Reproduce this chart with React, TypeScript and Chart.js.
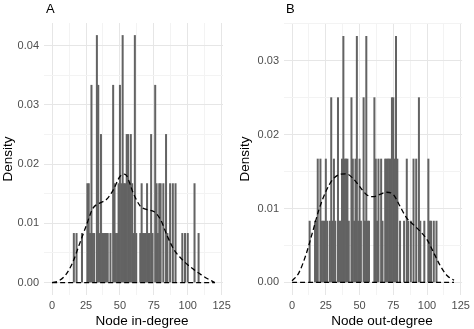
import React, { useEffect, useRef } from "react";
import { Chart, registerables } from "chart.js";
Chart.register(...registerables);

// Panel A: node in-degree histogram (bin width 1), density per bin
const inDegrees = [16, 18, 22, 26, 27, 28, 29, 30, 31, 33, 34, 35, 36, 37, 38, 39, 40, 41, 43, 45, 46, 47, 48, 49, 50, 51, 52, 53, 54, 55, 56, 57, 58, 59, 60, 61, 62, 65, 66, 67, 68, 69, 70, 71, 72, 73, 74, 76, 77, 78, 79, 80, 82, 84, 85, 87, 89, 91, 96, 98, 100, 105, 108];
const inDensity = [0.0083, 0.0083, 0.0083, 0.0167, 0.0167, 0.0083, 0.0333, 0.0083, 0.0083, 0.0417, 0.0333, 0.0083, 0.025, 0.0083, 0.0083, 0.0083, 0.0083, 0.0083, 0.0083, 0.0333, 0.0167, 0.0083, 0.0083, 0.0167, 0.0333, 0.0167, 0.0417, 0.0167, 0.0167, 0.025, 0.025, 0.0167, 0.025, 0.0167, 0.0083, 0.0417, 0.0083, 0.0083, 0.0167, 0.0083, 0.0083, 0.0083, 0.0167, 0.0083, 0.0083, 0.025, 0.0083, 0.0333, 0.0167, 0.0083, 0.0167, 0.0167, 0.0167, 0.025, 0.0083, 0.0167, 0.0167, 0.0167, 0.0083, 0.0083, 0.0083, 0.0167, 0.0083];
const inCurveX = [0, 5, 10, 15, 20, 25, 30, 35, 40, 45, 50, 53, 55, 60, 65, 70, 75, 80, 85, 90, 95, 100, 105, 110, 115, 120];
const inCurveY = [0.0, 0.0003, 0.0013, 0.0033, 0.0064, 0.0095, 0.0125, 0.0134, 0.014, 0.0156, 0.0179, 0.0183, 0.018, 0.015, 0.0129, 0.0123, 0.012, 0.0106, 0.0078, 0.0055, 0.0041, 0.003, 0.0021, 0.0013, 0.0006, 0.0];

// Panel B: node out-degree histogram
const outDegrees = [13, 17, 18, 19, 21, 22, 23, 24, 25, 26, 28, 29, 30, 31, 32, 34, 35, 36, 37, 38, 39, 40, 41, 42, 44, 45, 46, 47, 48, 49, 50, 51, 53, 54, 55, 56, 57, 61, 62, 63, 64, 66, 67, 69, 70, 71, 72, 73, 74, 75, 76, 77, 78, 80, 83, 85, 86, 88, 90, 92, 94, 95, 98, 101, 102, 103, 105, 107];
const outDensity = [0.0083, 0.0083, 0.0083, 0.0167, 0.0167, 0.0083, 0.0083, 0.0083, 0.0167, 0.0083, 0.0083, 0.025, 0.0083, 0.0167, 0.0083, 0.025, 0.0083, 0.0083, 0.0167, 0.0333, 0.0167, 0.0167, 0.0167, 0.0083, 0.025, 0.0167, 0.0083, 0.0167, 0.0333, 0.0083, 0.0167, 0.0083, 0.025, 0.0083, 0.0333, 0.0083, 0.0083, 0.025, 0.0167, 0.0083, 0.0167, 0.0167, 0.0083, 0.0167, 0.0167, 0.0167, 0.0167, 0.0167, 0.025, 0.025, 0.0167, 0.0333, 0.0167, 0.0083, 0.0083, 0.0167, 0.0083, 0.0083, 0.0167, 0.0167, 0.025, 0.0083, 0.0083, 0.0167, 0.0083, 0.0083, 0.0083, 0.0083];
const outCurveX = [0, 5, 10, 15, 20, 25, 30, 35, 40, 45, 50, 55, 60, 65, 70, 75, 80, 85, 90, 95, 100, 105, 110, 115, 120];
const outCurveY = [0.0002, 0.0013, 0.0036, 0.0067, 0.0099, 0.0123, 0.0139, 0.0146, 0.0147, 0.0141, 0.013, 0.0119, 0.0116, 0.0119, 0.0122, 0.0119, 0.0103, 0.0087, 0.0078, 0.0069, 0.0058, 0.004, 0.0022, 0.0009, 0.0003];

const baselineX = [0, 120];
const FONT = "'Liberation Sans', Arial, sans-serif";

type PanelProps = {
  degrees: number[];
  density: number[];
  curveX: number[];
  curveY: number[];
  yMin: number;
  yMax: number;
  axisWidth: number;
  padRight: number;
};

const isMajor = (v: number, step: number) => Math.abs(v / step - Math.round(v / step)) < 1e-6;
const gridColor = (step: number) => (c: any) =>
  c && c.tick && typeof c.tick.value === "number" && !isMajor(c.tick.value, step) ? "#f3f3f3" : "#e6e6e6";

function Panel(p: PanelProps) {
  const ref = useRef<HTMLCanvasElement>(null);
  useEffect(() => {
    if (!ref.current) return;
    const chart = new Chart(ref.current, {
      type: "bar",
      data: {
        datasets: [
          {
            type: "line",
            data: p.curveX.map((x, i) => ({ x, y: p.curveY[i] })),
            borderColor: "#000000",
            borderWidth: 1.3,
            borderDash: [5, 3],
            pointRadius: 0,
            cubicInterpolationMode: "monotone",
            fill: false,
            order: 0,
          } as any,
          {
            type: "line",
            data: baselineX.map((x) => ({ x, y: 0 })),
            borderColor: "#000000",
            borderWidth: 1.3,
            borderDash: [5, 3],
            pointRadius: 0,
            fill: false,
            order: 1,
          } as any,
          {
            type: "bar",
            data: p.degrees.map((x, i) => ({ x, y: p.density[i] })),
            backgroundColor: "#636363",
            borderWidth: 0,
            barPercentage: 1,
            categoryPercentage: 1,
            order: 2,
          } as any,
        ],
      },
      options: {
        responsive: false,
        animation: false,
        events: [],
        layout: { padding: { top: 23, right: p.padRight, left: 0, bottom: 0 } },
        plugins: { legend: { display: false }, tooltip: { enabled: false } },
        scales: {
          x: {
            type: "linear",
            min: -6,
            max: 126,
            offset: false,
            border: { display: false },
            grid: {
              offset: false,
              drawTicks: false,
              color: gridColor(25),
              lineWidth: 1,
            },
            ticks: {
              stepSize: 12.5,
              maxTicksLimit: 100,
              includeBounds: false,
              maxRotation: 0,
              autoSkip: false,
              padding: 4,
              color: "#4d4d4d",
              font: { family: FONT, size: 11 },
              callback: (v: any) => (isMajor(Number(v), 25) ? String(Math.round(Number(v))) : ""),
            },
            title: { display: false },
            afterFit: (s: any) => {
              s.height = 34;
            },
          } as any,
          y: {
            type: "linear",
            min: p.yMin,
            max: p.yMax,
            border: { display: false },
            grid: {
              drawTicks: false,
              color: gridColor(0.01),
              lineWidth: 1,
            },
            ticks: {
              stepSize: 0.005,
              maxTicksLimit: 100,
              includeBounds: false,
              autoSkip: false,
              padding: 5,
              color: "#4d4d4d",
              font: { family: FONT, size: 11 },
              callback: (v: any) => (isMajor(Number(v), 0.01) ? Number(v).toFixed(2) : ""),
            },
            title: {
              display: true,
              text: "Density",
              color: "#000000",
              font: { family: FONT, size: 13.5 },
              padding: 0,
            },
            afterFit: (s: any) => {
              s.width = p.axisWidth;
            },
          } as any,
        },
      },
    });
    return () => chart.destroy();
  }, []);
  return <canvas ref={ref} width={237} height={329} style={{ display: "block", width: 237, height: 329 }} />;
}

export default function App() {
  const label: React.CSSProperties = {
    position: "absolute",
    top: 1,
    fontFamily: FONT,
    fontSize: 13,
    color: "#000",
  };
  const xTitle: React.CSSProperties = {
    position: "absolute",
    top: 313,
    fontFamily: FONT,
    fontSize: 13.5,
    lineHeight: "15px",
    color: "#000",
    whiteSpace: "nowrap",
    transform: "translateX(-50%)",
  };
  return (
    <div style={{ position: "fixed", left: 0, top: 0, width: 474, height: 329, background: "#fff", display: "flex" }}>
      <div style={{ position: "relative", width: 237, height: 329 }}>
        <Panel degrees={inDegrees} density={inDensity} curveX={inCurveX} curveY={inCurveY} yMin={-0.0021} yMax={0.0438} axisWidth={44} padRight={14} />
        <div style={{ ...label, left: 46 }}>A</div>
        <div style={{ ...xTitle, left: 142 }}>Node in-degree</div>
      </div>
      <div style={{ position: "relative", width: 237, height: 329 }}>
        <Panel degrees={outDegrees} density={outDensity} curveX={outCurveX} curveY={outCurveY} yMin={-0.0017} yMax={0.0351} axisWidth={47} padRight={9} />
        <div style={{ ...label, left: 49 }}>B</div>
        <div style={{ ...xTitle, left: 145 }}>Node out-degree</div>
      </div>
    </div>
  );
}
